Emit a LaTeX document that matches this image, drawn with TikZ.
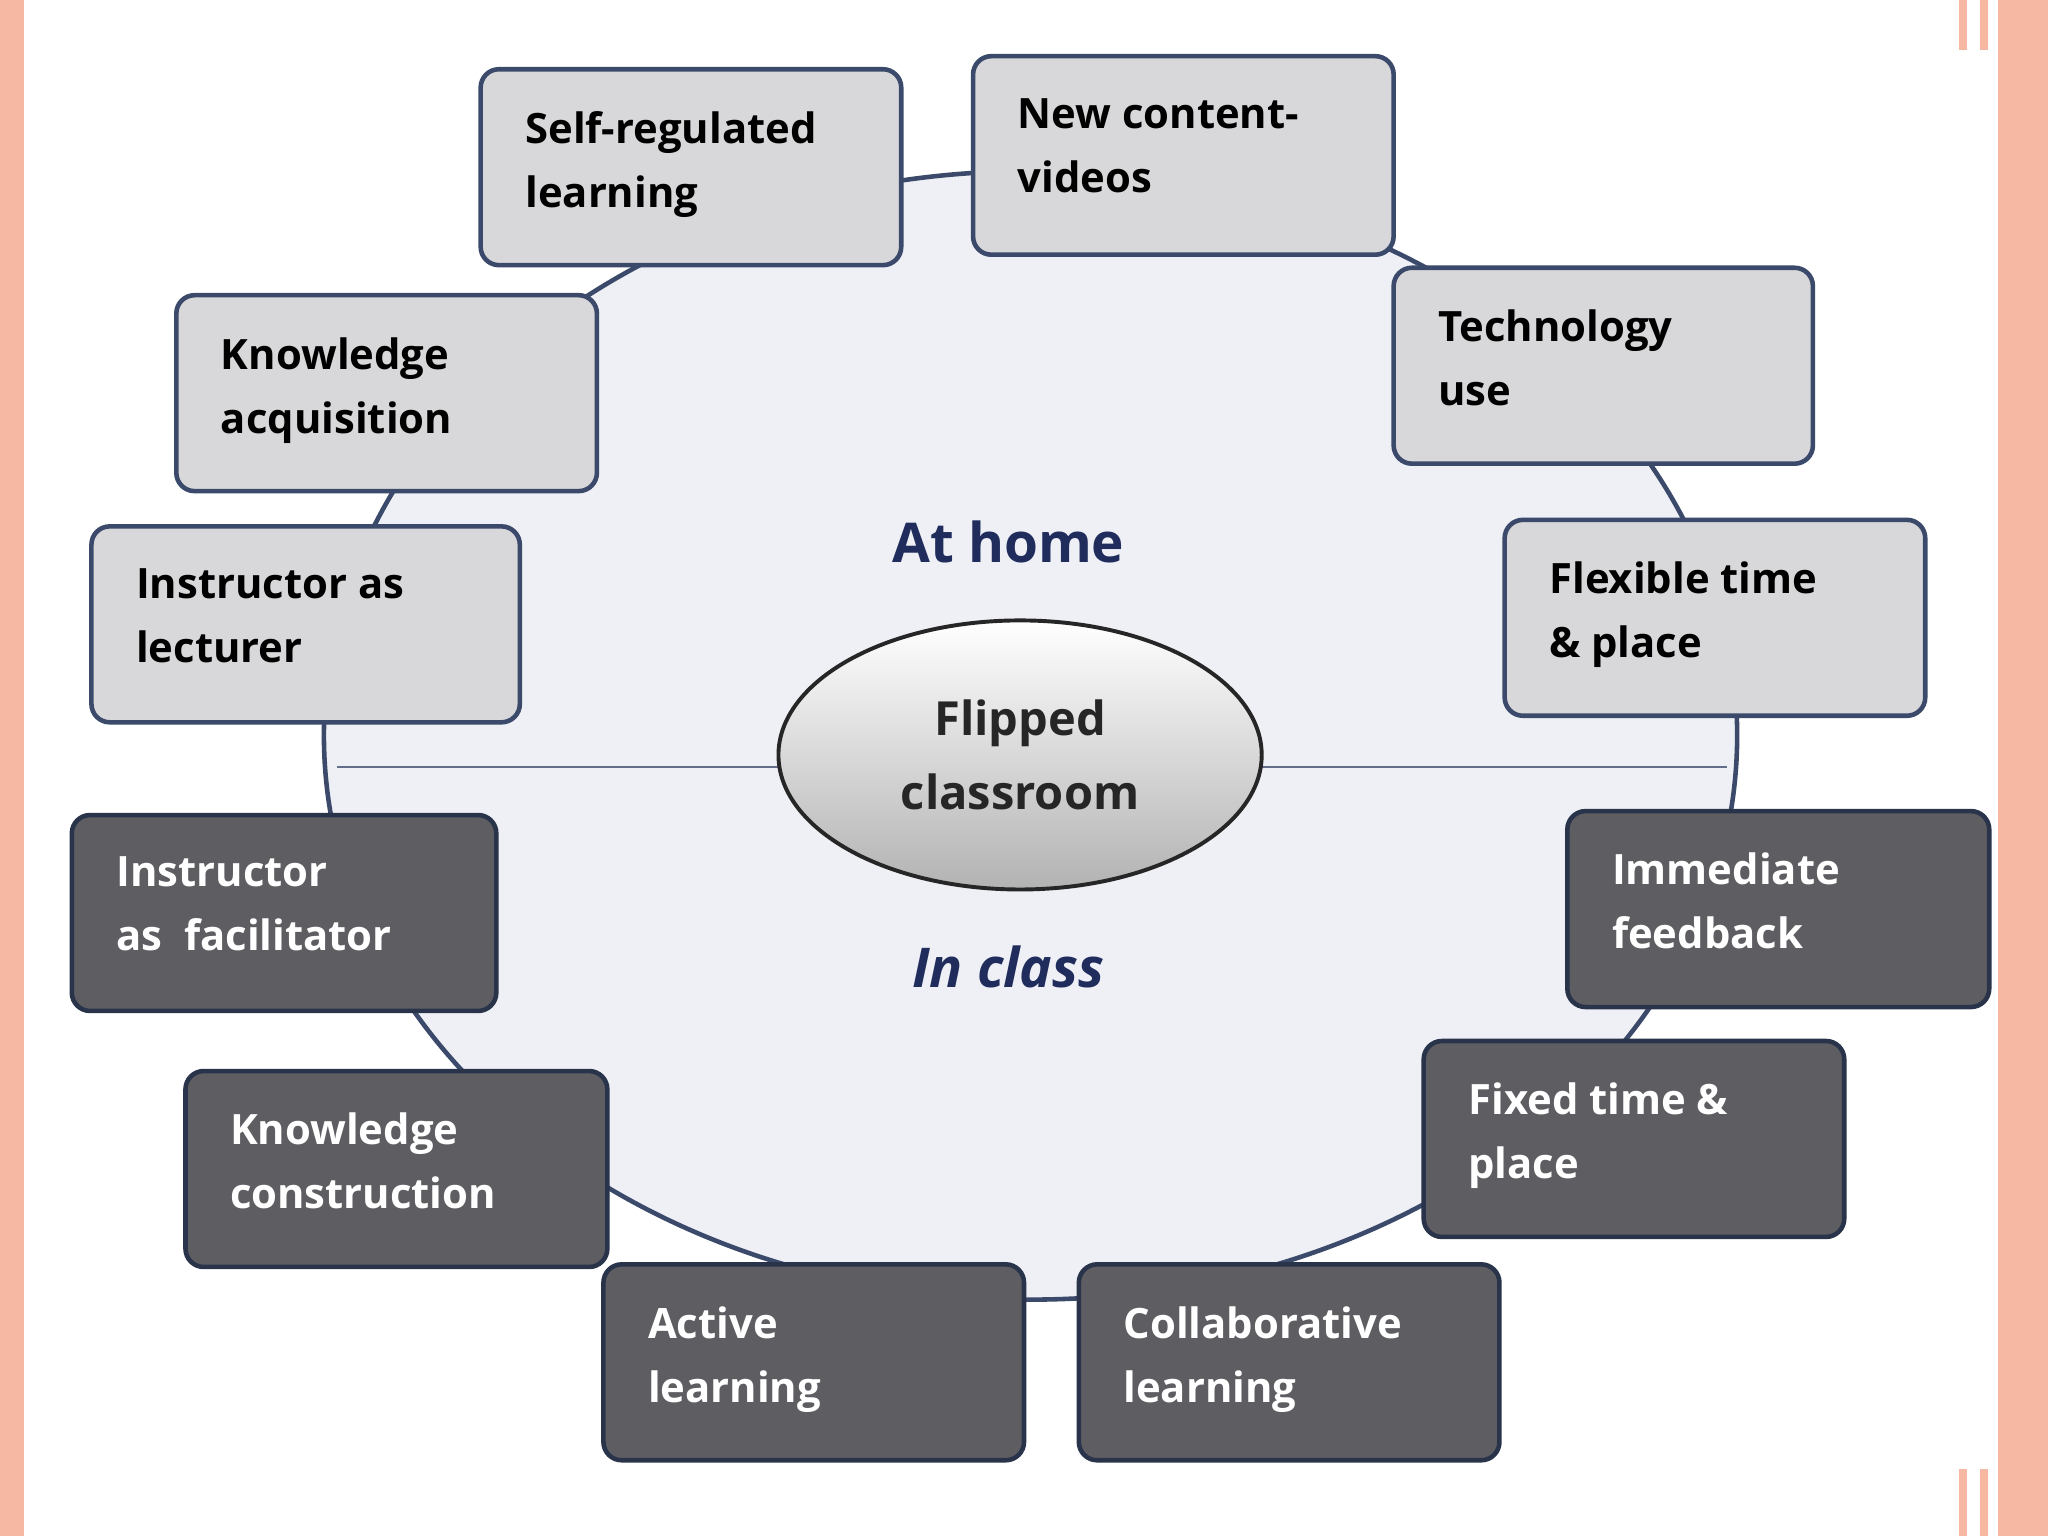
\documentclass[tikz,border=0pt]{standalone}
\usepackage{fontspec}
\setmainfont{Open Sans}
\usetikzlibrary{shapes.geometric,calc}
\definecolor{navy}{HTML}{3B4A6B}
\definecolor{lightbox}{HTML}{D8D8DA}
\definecolor{darkbox}{HTML}{5E5E62}
\definecolor{salmon}{HTML}{F6B8A2}
\definecolor{circfill}{HTML}{EEF0F5}
\definecolor{titlec}{HTML}{1F2C5C}
\tikzset{
 lbox/.style={draw=navy,line width=3.5pt,fill=lightbox,rounded corners=14pt},
 dbox/.style={draw=navy!70!black,line width=3.5pt,fill=darkbox,rounded corners=14pt},
 lbl/.style={anchor=north west,align=left,font=\fontsize{32}{49}\selectfont\bfseries,inner sep=0pt},
}
\newcommand{\mybox}[8]{% style, textcolour, name, x1,y1,x2,y2, text
 \draw[#1] (#4,#5) rectangle (#6,#7);
 \node[lbl,text=#2] (#3) at ($(#4,#5)+(34,32)$) {#8};
}
\begin{document}
\begin{tikzpicture}[x=1pt,y=-1pt]
\useasboundingbox (0,0) rectangle (1568,1176);
\fill[white] (0,0) rectangle (1568,1176);
\fill[salmon] (0,0) rectangle (18,1176);
\fill[salmon] (1530,0) rectangle (1568,1176);
\fill[salmon] (1500,0) rectangle (1506,38);
\fill[salmon] (1516,0) rectangle (1522,38);
\fill[salmon] (1500,1125) rectangle (1506,1176);
\fill[salmon] (1516,1125) rectangle (1522,1176);
\draw[navy,line width=3.5pt,fill=circfill] (789,563) ellipse [x radius=541,y radius=432];
\draw[navy!80,line width=1.5pt] (258,587) -- (1322,587);
\node[ellipse,draw=black!85,line width=3pt,top color=white,bottom color=black!30,minimum width=370,minimum height=206,align=center,font=\fontsize{36}{57}\selectfont\bfseries,text=black!85] (fc) at (781,578) {Flipped\\classroom};
\node[font=\fontsize{42}{50}\selectfont\bfseries,text=titlec] (home) at (772,415) {At home};
\node[font=\fontsize{42}{50}\selectfont\bfseries\itshape,text=titlec] (cls) at (772,740) {In class};
\mybox{lbox}{black}{b1}{368}{53}{690}{203}{Self-regulated\\learning}
\mybox{lbox}{black}{b2}{745}{43}{1067}{195}{New content-\\videos}
\mybox{lbox}{black}{b3}{1067}{205}{1388}{355}{Technology\\use}
\mybox{lbox}{black}{b4}{1152}{398}{1474}{548}{Flexible time\\\& place}
\mybox{lbox}{black}{b5}{135}{226}{457}{376}{Knowledge\\acquisition}
\mybox{lbox}{black}{b6}{70}{403}{398}{553}{Instructor as\\lecturer}
\mybox{dbox}{white}{b7}{55}{624}{380}{774}{Instructor\\as~~facilitator}
\mybox{dbox}{white}{b8}{142}{820}{465}{970}{Knowledge\\construction}
\mybox{dbox}{white}{b9}{462}{968}{784}{1118}{Active\\learning}
\mybox{dbox}{white}{b10}{826}{968}{1148}{1118}{Collaborative\\learning}
\mybox{dbox}{white}{b11}{1090}{797}{1412}{947}{Fixed time \&\\place}
\mybox{dbox}{white}{b12}{1200}{621}{1523}{771}{Immediate\\feedback}
\end{tikzpicture}
\end{document}
